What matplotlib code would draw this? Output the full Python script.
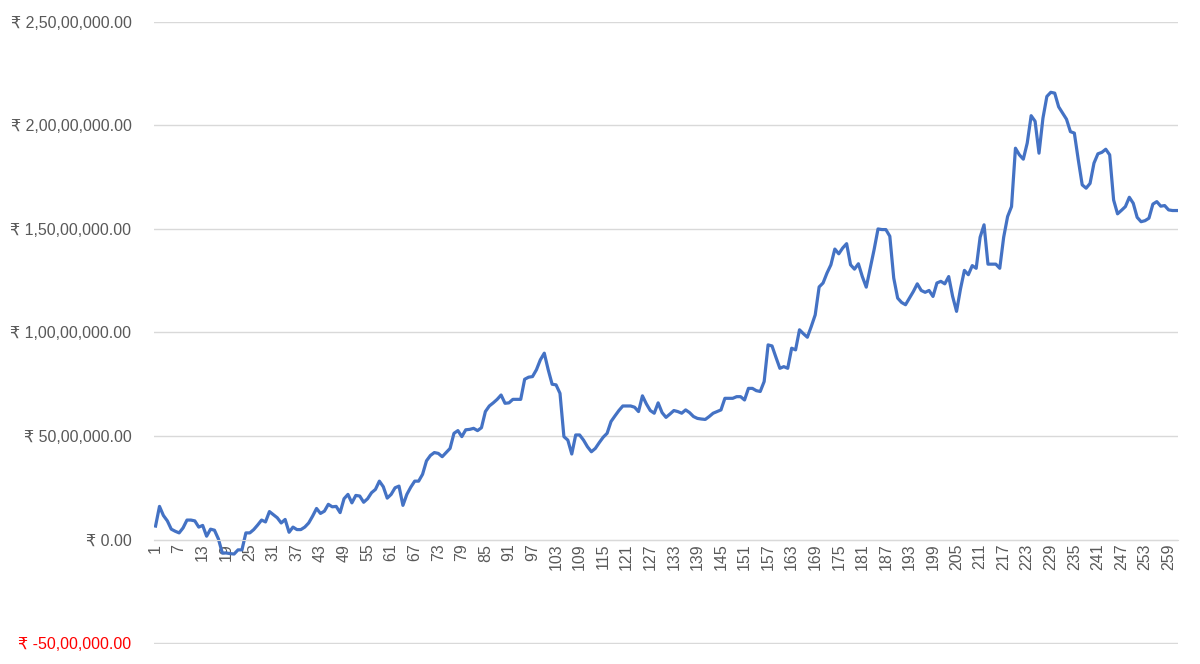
import matplotlib
matplotlib.use("Agg")
import matplotlib.pyplot as plt
from matplotlib.ticker import FuncFormatter, MultipleLocator

plt.rcParams["font.family"] = ["Liberation Sans", "DejaVu Sans"]

# portfolio value per period, in lakhs (1 lakh = 1,00,000)
values_lakh = [
    6.5, 16, 11.6, 9, 5, 4, 3.2, 5.6, 9.4, 9.4,
    9, 6, 6.8, 1.6, 5, 4.5, 0.3, -6.5, -6.5, -6.8,
    -7, -5, -5, 3.2, 3.2, 4.8, 7, 9.4, 8.5, 13.5,
    12, 10.5, 8, 9.7, 3.5, 6, 4.8, 4.8, 6, 8,
    11.3, 15, 12.6, 13.7, 17, 15.8, 16, 13, 19.7, 21.8,
    17.7, 21.3, 21, 18, 19.7, 22.6, 24.2, 28.2, 25.5, 20,
    21.8, 25, 25.8, 16.5, 21.8, 25.3, 28.2, 28.2, 31.5, 38,
    40.6, 42, 41.6, 40, 42, 44, 51.3, 52.6, 49.7, 53,
    53.2, 53.7, 52.6, 54, 61.8, 64.5, 66, 67.7, 69.8, 65.8,
    66, 67.7, 67.7, 67.7, 77.4, 78.4, 78.7, 82, 86.8, 90,
    82, 75, 74.7, 70.6, 49.7, 48, 41.3, 50.5, 50.5, 48,
    44.8, 42.4, 44, 46.8, 49.4, 51.3, 57, 59.7, 62.3, 64.5,
    64.5, 64.5, 63.9, 61.8, 69.4, 65.5, 62.3, 61, 66, 61.3,
    59, 60.6, 62.3, 61.8, 61, 62.6, 61.3, 59.4, 58.5, 58.2,
    58, 59.4, 61, 61.8, 62.6, 68.2, 68.2, 68.2, 69, 69,
    67.4, 73, 73, 71.9, 71.5, 76.3, 94, 93.5, 88, 82.7,
    83.5, 82.7, 92.4, 91.6, 101.3, 99.4, 97.7, 102.9, 108.5, 122,
    123.9, 128.7, 132.7, 140.3, 138, 140.8, 142.9, 132.7, 130.6, 133.2,
    127, 121.9, 131, 140, 150, 149.7, 149.7, 146.5, 126.3, 116.6,
    114.5, 113.4, 116.6, 119.8, 123.5, 120.3, 119.4, 120.3, 117.4, 123.9,
    124.7, 123.5, 127, 117.4, 110.2, 121, 130, 127.9, 132.3, 131,
    146, 152, 133, 133, 133, 131, 146, 156, 160.8, 189,
    185.8, 183.7, 191.5, 204.7, 202, 186.6, 203.5, 214, 216, 215.6,
    209, 206, 203, 197, 196.3, 183.4, 171.3, 169.7, 172, 181.8,
    186.3, 187, 188.5, 185.8, 164, 157.3, 159, 160.8, 165.3, 162.4,
    155.6, 153.5, 154, 155.2, 162, 163.2, 161, 161.3, 159.2, 158.9,
    158.9,
]
periods = list(range(1, len(values_lakh) + 1))
values = [v * 1e5 for v in values_lakh]


def inr(x, pos=None):
    neg = x < 0
    n = int(round(abs(x)))
    if n == 0:
        return "₹ 0.00"
    s = str(n)
    if len(s) > 3:
        head, tail = s[:-3], s[-3:]
        groups = []
        while len(head) > 2:
            groups.insert(0, head[-2:])
            head = head[:-2]
        if head:
            groups.insert(0, head)
        s = ",".join(groups) + "," + tail
    return f"₹ {'-' if neg else ''}{s}.00"


fig, ax = plt.subplots(figsize=(12, 6.64), dpi=100)
fig.subplots_adjust(left=0.128, right=0.982, top=0.967, bottom=0.03)

ax.plot(periods, values, color="#4472C4", lw=2.3)
ax.set_ylim(-50.5e5, 250e5)
ax.set_xlim(0.5, len(periods) + 0.5)
ax.yaxis.set_major_locator(MultipleLocator(50e5))
ax.yaxis.set_major_formatter(FuncFormatter(inr))
ax.grid(axis="y", color="#d9d9d9", lw=1)
ax.set_axisbelow(True)

for s in ("top", "right", "left"):
    ax.spines[s].set_visible(False)
ax.spines["bottom"].set_position(("data", 0))
ax.spines["bottom"].set_color("#d9d9d9")

ax.set_xticks(periods[::6])
ax.tick_params(axis="x", rotation=90, length=0, labelsize=11.5, labelcolor="#595959", pad=3)
ax.tick_params(axis="y", length=0, labelsize=11.5, labelcolor="#595959", pad=16)
for lbl, v in zip(ax.get_yticklabels(), ax.get_yticks()):
    if v < 0:
        lbl.set_color("red")

fig.savefig("out.png", dpi=100)
